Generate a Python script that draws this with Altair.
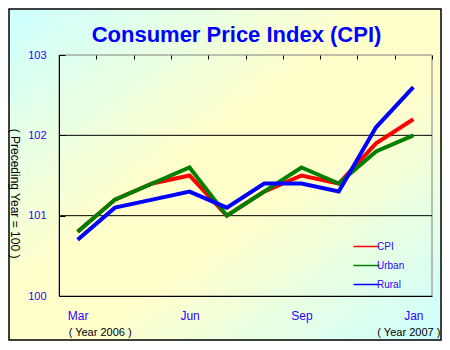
import altair as alt
import pandas as pd

months = ["Mar", "Apr", "May", "Jun", "Jul", "Aug", "Sep", "Oct", "Nov", "Jan"]
cpi = [100.8, 101.2, 101.4, 101.5, 101.0, 101.3, 101.5, 101.4, 101.9, 102.2]
urban = [100.8, 101.2, 101.4, 101.6, 101.0, 101.3, 101.6, 101.4, 101.8, 102.0]
rural = [100.7, 101.1, 101.2, 101.3, 101.1, 101.4, 101.4, 101.3, 102.1, 102.6]
series_names = ["CPI", "Urban", "Rural"]
series_colors = ["#ff0000", "#008000", "#0000ff"]
shown_months = ["Mar", "Jun", "Sep", "Jan"]
y_ticks = [100, 101, 102, 103]
grid_values = [101, 102]
year_labels = ["( Year 2006 )", "( Year 2007 )"]
year_months = ["Mar", "Jan"]

W, H = 373, 241
FONT = "Liberation Sans"
LABEL_BLUE = "#3300ff"

rows = []
for name, vals in zip(series_names, [cpi, urban, rural]):
    for m, v in zip(months, vals):
        rows.append({"month": m, "value": v, "series": name})
df = pd.DataFrame(rows)

x_enc = alt.X(
    "month:N",
    sort=months,
    bandPosition=0.5,
    scale=alt.Scale(type="band", domain=months, paddingInner=0, paddingOuter=0),
    axis=alt.Axis(
        title=None,
        labelAngle=0,
        labelExpr="indexof(['Mar','Jun','Sep','Jan'], datum.value) >= 0 ? datum.value : ''",
        labelColor=LABEL_BLUE,
        labelFontSize=12,
        labelPadding=14,
        ticks=False,
        tickSize=0,
        tickBand="extent",
        grid=True,
        gridColor="black",
        gridDash=[4, 1000],
        gridWidth=1,
        domainColor="black",
        domainWidth=1,
        zindex=1,
    ),
)

y_scale = alt.Scale(domain=[100, 103], nice=False, zero=False)
y_axis = alt.Axis(
    values=y_ticks,
    format="d",
    labelColor=LABEL_BLUE,
    labelFontSize=11,
    labelPadding=13,
    ticks=False,
    tickSize=0,
    grid=True,
    gridColor="black",
    gridDash=[6, 1000],
    domainColor="black",
    domainWidth=1,
    title="( Preceding Year = 100 )",
    titleAngle=90,
    titleFontSize=12,
    titleFontWeight="normal",
    titleColor="black",
    titleX=-45,
    titleY=138,
    titleAlign="center",
    titleBaseline="middle",
    zindex=1,
)

bg = alt.Chart(pd.DataFrame({"a": [0]})).mark_rect(
    fill=alt.LinearGradient(
        gradient="linear",
        stops=[
            alt.GradientStop(color="#ccffff", offset=0),
            alt.GradientStop(color="#ffffcc", offset=0.42),
            alt.GradientStop(color="#ffffcc", offset=0.6),
            alt.GradientStop(color="#ccffff", offset=1),
        ],
        x1=0, y1=0, x2=1, y2=1,
    ),
    stroke="black",
    strokeWidth=1.5,
).encode(
    x=alt.value(-50), x2=alt.value(382), y=alt.value(-46), y2=alt.value(285)
)

frame = alt.Chart(pd.DataFrame({"a": [0]})).mark_rect(
    fill=None, fillOpacity=0, stroke="#808080", strokeWidth=1
).encode(x=alt.value(0), x2=alt.value(W), y=alt.value(0), y2=alt.value(H))

grid = alt.Chart(pd.DataFrame({"value": grid_values})).mark_rule(
    color="black", strokeWidth=1
).encode(y=alt.Y("value:Q", scale=y_scale))

lines = alt.Chart(df).mark_line(strokeWidth=4).encode(
    x=x_enc,
    y=alt.Y("value:Q", scale=y_scale, axis=y_axis),
    color=alt.Color(
        "series:N",
        sort=series_names,
        scale=alt.Scale(domain=series_names, range=series_colors),
        legend=alt.Legend(
            title=None,
            orient="none",
            legendX=300,
            legendY=184,
            symbolType="M-2,0H2",
            symbolSize=169,
            symbolStrokeWidth=1.5,
            symbolFillColor="transparent",
            labelColor=LABEL_BLUE,
            labelFontSize=10,
            labelOffset=3,
            rowPadding=6,
            padding=0,
            zindex=1,
        ),
    ),
)

yr1 = alt.Chart(pd.DataFrame({"month": [year_months[0]], "label": [year_labels[0]]})).mark_text(
    align="left", baseline="alphabetic", fontSize=11, color="black", dx=-9
).encode(x=alt.X("month:N", sort=months, bandPosition=0.5), y=alt.value(H + 40), text="label:N")

yr2 = alt.Chart(pd.DataFrame({"month": [year_months[1]], "label": [year_labels[1]]})).mark_text(
    align="right", baseline="alphabetic", fontSize=11, color="black", dx=27
).encode(x=alt.X("month:N", sort=months, bandPosition=0.5), y=alt.value(H + 40), text="label:N")

chart = alt.layer(bg, frame, grid, lines, yr1, yr2).properties(
    width=W,
    height=H,
    title=alt.TitleParams(
        text="Consumer Price Index (CPI)",
        fontSize=22,
        fontWeight="bold",
        color="#0000ff",
        anchor="middle",
        baseline="alphabetic",
        offset=-56,
        dx=-9,
        zindex=1,
    ),
    autosize=alt.AutoSizeParams(type="none"),
    padding={"left": 51, "top": 47, "right": 10, "bottom": 46},
).configure(font=FONT).configure_view(stroke=None)

chart.save("out.html", embed_options={"renderer": "svg", "actions": False})
